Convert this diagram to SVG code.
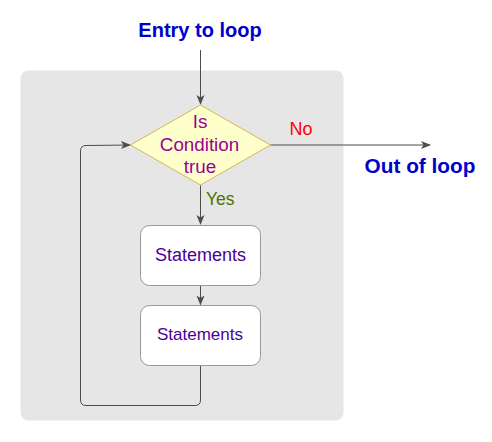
<svg xmlns="http://www.w3.org/2000/svg" width="492" height="442" viewBox="0 0 492 442">
<style>
text{font-family:"Liberation Sans",Arial,sans-serif;}
.title{font-size:20px;font-weight:bold;fill:#0000CC;text-anchor:middle;}
.cond{font-size:18.8px;fill:#990099;text-anchor:middle;}
.stmt{fill:#4C0099;text-anchor:middle;}
.box{fill:#FFFFFF;stroke:#999999;stroke-width:1;}
.edge{fill:none;stroke:#4D4D4D;stroke-width:1;}
</style>
<defs>
<marker id="arr" viewBox="0 0 10 10" refX="9" refY="5" markerWidth="10" markerHeight="10" markerUnits="userSpaceOnUse" orient="auto">
<path d="M0,1 L10,5 L0,9 L2.5,5 Z" fill="#4D4D4D"/>
</marker>
</defs>
<rect id="loop-area" x="20.5" y="70.5" width="323" height="350" rx="8" fill="#E6E6E6"/>
<g id="connectors">
<path class="edge" d="M200.5,50 L200.5,104" marker-end="url(#arr)"/>
<path class="edge" d="M270.5,145 L430,145" marker-end="url(#arr)"/>
<path class="edge" d="M200.5,185 L200.5,224" marker-end="url(#arr)"/>
<path class="edge" d="M200.5,285.5 L200.5,304.5" marker-end="url(#arr)"/>
<path class="edge" d="M200.5,365.5 L200.5,400 Q200.5,405.5 195,405.5 L86,405.5 Q80.5,405.5 80.5,400 L80.5,151 Q80.5,145.5 86,145.5 L130,145" marker-end="url(#arr)"/>
</g>
<text class="title" x="200" y="37">Entry to loop</text>
<text class="title" x="420" y="173" style="font-size:20.8px">Out of loop</text>
<text x="301" y="135" font-size="18" fill="#FF0000" text-anchor="middle">No</text>
<text x="206" y="205" font-size="17.5" fill="#4D7300">Yes</text>
<g id="condition">
<polygon points="200.5,105 270.5,145 200.5,185 130.5,145" fill="#FFFFCC" stroke="#D6B656" stroke-width="1"/>
<text class="cond" x="200" y="128">Is</text>
<text class="cond" x="199.5" y="151">Condition</text>
<text class="cond" x="200" y="173">true</text>
</g>
<g id="statements1">
<rect class="box" x="140.5" y="225.5" width="120" height="60" rx="9"/>
<text class="stmt" x="200.5" y="261" font-size="18">Statements</text>
</g>
<g id="statements2">
<rect class="box" x="140.5" y="305.5" width="120" height="60" rx="9"/>
<text class="stmt" x="200" y="340" font-size="17">Statements</text>
</g>
</svg>
